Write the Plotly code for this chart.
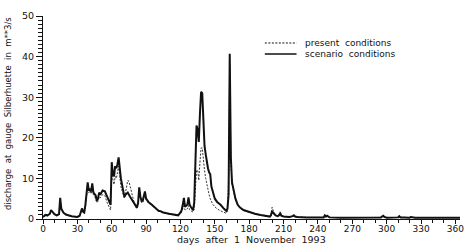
import plotly.graph_objects as go

# Scenario conditions (solid line)
scen_days = [0,2,4,6,7,8,10,12,14,15,16,18,20,25,30,32,33,34,35,36,37,38,39,40,41,42,43,44,46,47,48,49,50,52,54,56,58,59,
             60,61,62,63,64,65,66,67,68,70,71,72,74,76,78,80,82,83,84,85,86,87,88,89,90,92,95,98,100,101,102,103,105,110,
             115,118,120,121,122,123,124,125,126,127,128,129,130,131,132,133,134,135,136,137,138,139,140,141,142,143,144,
             145,146,147,148,150,152,155,158,160,161,162,163,164,165,166,167,168,170,172,175,180,185,190,195,198,199,200,
             201,202,203,205,206,207,208,210,215,218,219,220,222,230,240,245,246,247,248,250,260,270,280,285,290,295,297,
             298,300,305,310,311,312,315,320,321,325,330,335,340,345,350,355,360,364]
scen_vals = [0.5,1.0,0.9,1.3,2.2,1.9,1.2,0.9,1.2,5.2,2.5,1.5,1.1,0.7,0.5,0.8,1.8,2.6,1.8,1.6,3.5,6.5,9.0,7.0,7.5,6.8,8.8,6.5,5.8,4.5,5.0,6.5,6.0,7.0,6.8,5.5,4.0,3.5,
             14.0,11.0,10.5,13.0,12.5,13.5,15.2,12.0,10.0,7.0,5.5,6.0,6.5,5.5,4.5,3.5,2.8,4.0,7.8,5.5,4.5,4.5,5.5,6.8,5.0,4.2,3.5,2.7,2.3,2.0,2.0,1.8,1.6,1.3,
             1.0,0.9,1.6,2.2,3.5,5.2,3.0,3.2,3.5,5.3,3.5,3.0,2.5,2.2,4.0,14.0,23.0,22.0,19.0,26.0,31.3,31.0,23.0,18.0,16.0,14.0,12.5,
             11.5,11.0,8.0,7.0,5.0,4.2,3.5,2.5,2.0,2.5,6.0,40.7,15.0,9.0,7.5,6.5,5.0,3.5,2.8,2.2,1.7,1.3,1.0,0.7,0.6,0.9,2.0,
             1.5,1.2,0.9,0.7,0.9,1.5,0.8,0.6,0.5,0.7,0.9,0.6,0.5,0.4,0.3,0.4,0.9,0.6,0.8,0.4,0.3,0.3,0.3,0.4,0.3,0.4,0.8,
             0.5,0.3,0.3,0.4,0.7,0.4,0.4,0.3,0.5,0.3,0.3,0.3,0.4,0.3,0.3,0.3,0.3,0.3]

# Present conditions (dotted line)
pres_days = [0,2,4,6,7,8,10,12,14,15,16,18,20,25,30,32,33,34,35,36,37,38,39,40,41,42,43,44,46,47,48,49,50,52,54,56,58,59,
             60,61,62,63,64,65,66,67,68,70,71,72,73,74,75,76,78,80,82,83,84,85,86,87,88,89,90,92,95,98,100,101,102,103,105,110,
             115,118,120,121,122,123,124,125,126,127,128,129,130,131,132,133,134,135,136,137,138,139,140,141,142,143,144,
             145,146,147,148,150,152,155,158,160,161,162,163,164,165,166,167,168,170,172,175,180,185,190,195,198,199,200,
             201,202,203,205,206,207,208,210,215,218,219,220,222,230,240,245,246,247,248,250,260,270,280,285,290,295,297,
             298,300,305,310,311,312,315,320,321,325,330,335,340,345,350,355,360,364]
pres_vals = [0.5,0.9,0.8,1.2,2.0,1.8,1.1,0.8,1.1,4.8,2.3,1.4,1.0,0.6,0.5,0.7,1.6,2.3,1.6,1.4,3.0,5.5,8.0,6.5,7.0,6.2,8.0,6.0,5.0,4.0,4.3,5.5,5.2,6.0,5.8,4.0,2.5,2.2,
             11.0,9.5,8.5,10.5,10.0,11.5,13.0,10.5,8.0,6.0,5.0,6.5,8.5,9.5,9.3,8.0,5.5,3.5,2.5,3.5,7.0,5.0,4.0,4.0,5.0,6.3,4.8,4.0,3.3,2.6,2.2,1.9,1.9,1.7,1.5,1.2,
             1.0,0.9,1.3,1.7,2.5,3.2,2.2,2.3,2.5,3.3,2.3,2.0,1.8,1.7,2.5,7.0,12.0,12.0,9.5,14.0,17.5,17.5,14.0,12.0,10.0,8.5,7.0,
             6.0,5.0,4.2,3.7,3.0,2.5,2.0,1.6,1.4,2.0,10.0,38.0,14.0,8.5,7.0,6.0,4.8,3.3,2.7,2.1,1.6,1.2,0.9,0.7,0.6,1.2,2.9,
             2.0,1.5,1.0,0.7,1.0,1.8,0.9,0.6,0.5,0.7,0.9,0.6,0.5,0.4,0.3,0.4,1.0,0.6,0.8,0.4,0.3,0.3,0.3,0.4,0.3,0.4,0.8,
             0.5,0.3,0.3,0.4,0.7,0.4,0.4,0.3,0.5,0.3,0.3,0.3,0.4,0.3,0.3,0.3,0.3,0.3]

x_ticks = [0,30,60,90,120,150,180,210,240,270,300,330,360]
y_ticks = [0,10,20,30,40,50]
SP = "\u00a0\u00a0"
legend_names = ["present" + SP + "conditions", "scenario" + SP + "conditions"]
x_title = SP.join(["days", "after", "1", "November", "1993"])
y_title = SP.join(["discharge", "at", "gauge", "Silberhuette", "in", "m**3/s"])

FONT = "DejaVu Sans"
INK = "#111111"

fig = go.Figure()
fig.add_trace(go.Scatter(x=pres_days, y=pres_vals, mode="lines", name=legend_names[0],
                         line=dict(color="#333333", width=1, dash="2px,1.5px"), showlegend=False))
fig.add_trace(go.Scatter(x=scen_days, y=scen_vals, mode="lines", name=legend_names[1],
                         line=dict(color=INK, width=2), showlegend=False))

fig.update_layout(
    width=474, height=247, autosize=False,
    margin=dict(l=43, r=10, t=12, b=28),
    paper_bgcolor="white", plot_bgcolor="white",
    font=dict(family=FONT, size=9, color=INK),
)
fig.update_xaxes(range=[0, 364], tickvals=x_ticks, ticktext=[str(v) for v in x_ticks],
                 ticks="outside", ticklen=4, tickcolor=INK, showline=True, linecolor=INK, linewidth=1,
                 showgrid=False, zeroline=False, tickfont=dict(size=9), ticklabelstandoff=-3,
                 minor=dict(dtick=10, tick0=0, ticks="outside", ticklen=3, tickcolor=INK, showgrid=False))
fig.update_yaxes(range=[0, 50], tickvals=y_ticks, ticktext=[str(v) for v in y_ticks],
                 ticks="outside", ticklen=6, tickcolor=INK, showline=True, linecolor=INK, linewidth=1,
                 showgrid=False, zeroline=False, tickfont=dict(size=9.5),
                 minor=dict(dtick=1, tick0=0, ticks="outside", ticklen=4, tickcolor=INK, showgrid=False))

# axis titles (plot area height = 207 px)
fig.add_annotation(text=x_title, xref="paper", yref="paper", x=0.5, y=-28/207, xanchor="center", yanchor="bottom",
                   showarrow=False, borderpad=0, font=dict(size=9.5, color=INK))
fig.add_annotation(text=y_title, xref="paper", yref="paper", x=-0.068, y=0.52, xanchor="right", yanchor="middle",
                   textangle=-90, showarrow=False, borderpad=0, font=dict(size=8.5, color=INK))

# legend (drawn manually for tight spacing)
ly = [0.867, 0.813]
dashes = ["2px,1.5px", "solid"]
widths = [1, 1.6]
for name, yy, ds, w in zip(legend_names, ly, dashes, widths):
    fig.add_shape(type="line", xref="paper", yref="paper", x0=0.532, x1=0.608, y0=yy, y1=yy,
                  line=dict(color=INK, width=w, dash=ds))
    fig.add_annotation(text=name, xref="paper", yref="paper", x=0.627, y=yy, xanchor="left", yanchor="middle",
                       showarrow=False, borderpad=0, font=dict(size=9, color=INK))

fig.write_html("out.html")
